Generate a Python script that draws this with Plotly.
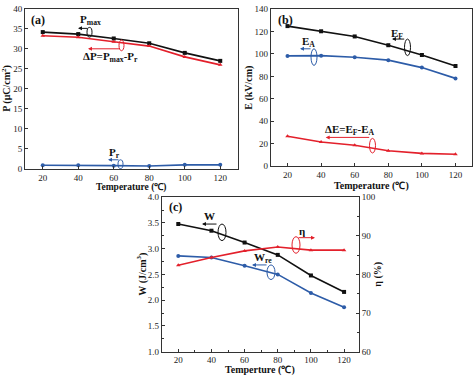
import plotly.graph_objects as go

W_PX, H_PX = 474, 378

temps = [20, 40, 60, 80, 100, 120]

# panel (a)
p_max = [34.2, 33.7, 32.6, 31.4, 29.0, 27.0]
delta_p = [33.3, 32.9, 31.8, 30.7, 28.0, 26.0]
p_r = [0.9, 0.9, 0.8, 0.7, 1.0, 1.0]

# panel (b)
e_f = [124.7, 120.1, 115.5, 107.7, 99.0, 89.2]
e_a = [98.2, 98.4, 97.0, 94.4, 87.8, 78.2]
delta_e = [26.8, 21.6, 18.8, 13.9, 11.5, 10.7]

# panel (c)
w_tot = [3.48, 3.35, 3.12, 2.88, 2.48, 2.16]
w_re = [2.86, 2.83, 2.67, 2.50, 2.14, 1.86]
eta = [82.4, 84.4, 86.1, 87.1, 86.3, 86.3]

BLACK = "#111111"
RED = "#e3202b"
BLUE = "#2d5ca8"
FONT = "Liberation Serif"


def px(x):
    return x / W_PX


def py(y):
    return 1 - y / H_PX


fig = go.Figure()

def add(x, y, color, symbol, xa, ya):
    fig.add_trace(go.Scatter(
        x=x, y=y, mode="lines+markers", xaxis=xa, yaxis=ya,
        line=dict(color=color, width=1.6),
        marker=dict(color=color, symbol=symbol, size=4),
        showlegend=False, cliponaxis=False))

add(temps, p_max, BLACK, "square", "x", "y")
add(temps, delta_p, RED, "triangle-up", "x", "y")
add(temps, p_r, BLUE, "circle", "x", "y")

add(temps, e_f, BLACK, "square", "x2", "y2")
add(temps, e_a, BLUE, "circle", "x2", "y2")
add(temps, delta_e, RED, "triangle-up", "x2", "y2")

add(temps, w_tot, BLACK, "square", "x3", "y3")
add(temps, w_re, BLUE, "circle", "x3", "y3")
add(temps, eta, RED, "triangle-up", "x3", "y4")

tickfont = dict(family=FONT, size=9, color="#222")
common = dict(showline=True, linecolor="#333", linewidth=1, mirror=True,
              ticks="inside", ticklen=3, tickcolor="#333", showgrid=False,
              zeroline=False, tickfont=tickfont)

fig.update_layout(
    width=W_PX, height=H_PX, autosize=False,
    margin=dict(l=0, r=0, t=0, b=0),
    paper_bgcolor="white", plot_bgcolor="white",
    xaxis=dict(domain=[px(25), px(238)], range=[10, 130], anchor="y",
               tickvals=[20, 40, 60, 80, 100, 120], **common),
    yaxis=dict(domain=[py(168.3), py(4)], range=[0, 40], anchor="x",
               tickvals=list(range(0, 41, 5)), **common),
    xaxis2=dict(domain=[px(270.7), px(472.3)], range=[10, 130], anchor="y2",
                tickvals=[20, 40, 60, 80, 100, 120], **common),
    yaxis2=dict(domain=[py(165.7), py(4)], range=[0, 140], anchor="x2",
                tickvals=list(range(0, 141, 20)), **common),
    xaxis3=dict(domain=[px(161.7), px(359)], range=[10, 129], anchor="y3",
                tickvals=[20, 40, 60, 80, 100, 120],
                minor=dict(ticks="inside", ticklen=2, tickvals=[30, 50, 70, 90, 110], tickcolor="#333"),
                **common),
    yaxis3=dict(domain=[py(356), py(197.5)], range=[1.0, 4.0], anchor="x3",
                tickvals=[1.0, 1.5, 2.0, 2.5, 3.0, 3.5, 4.0], tickformat=".1f",
                minor=dict(ticks="inside", ticklen=2, dtick=0.25, tickcolor="#333"),
                **common),
    yaxis4=dict(overlaying="y3", side="right", anchor="x3", range=[60, 100],
                tickvals=[60, 70, 80, 90, 100], showline=True, linecolor="#333",
                ticks="inside", ticklen=3, tickcolor="#333", showgrid=False,
                zeroline=False, tickfont=tickfont,
                minor=dict(ticks="inside", ticklen=2, dtick=5, tickcolor="#333")),
)

anns = []
shapes = []


def text(x, y, s, size=11, angle=0, xanchor="center", color="#111"):
    anns.append(dict(x=px(x), y=py(y), xref="paper", yref="paper", text=s,
                     showarrow=False, textangle=angle, xanchor=xanchor, yanchor="middle",
                     font=dict(family=FONT, size=size, color=color)))


def arrow(x0, y0, x1, y1, color):
    # arrow from (x0,y0) tail to (x1,y1) head, in pixel coords
    anns.append(dict(x=px(x1), y=py(y1), xref="paper", yref="paper",
                     ax=x0 - x1, ay=y0 - y1, axref="pixel", ayref="pixel",
                     text="", showarrow=True, arrowhead=2, arrowsize=0.8,
                     arrowwidth=1, arrowcolor=color))


def ellipse(cx, cy, w, h, color):
    shapes.append(dict(type="circle", xref="paper", yref="paper",
                       x0=px(cx - w / 2), x1=px(cx + w / 2),
                       y0=py(cy + h / 2), y1=py(cy - h / 2),
                       line=dict(color=color, width=1)))

# axis titles
text(131, 187.5, "<b>Temperature (℃)</b>", 9.5)
text(7, 86, "<b>P (μC/cm<sup>2</sup>)</b>", 10, angle=-90)
text(371, 185.5, "<b>Temperature (℃)</b>", 10)
text(249, 85, "<b>E (kV/cm)</b>", 10, angle=-90)
text(260, 374.5, "<b>Temperture (℃)</b>", 10)
text(142, 277, "<b>W (J/cm<sup>3</sup>)</b>", 10, angle=-90)
text(378, 277, "<b>η (%)</b>", 10, angle=-90)

# panel labels
text(29, 15, "<b>(a)</b>", 12, xanchor="left")
text(276, 15, "<b>(b)</b>", 12, xanchor="left")
text(167, 207, "<b>(c)</b>", 12, xanchor="left")

# panel (a) annotations
text(90, 15, "<b>P<sub>max</sub></b>", 11)
ellipse(89.5, 28, 5, 10, BLACK)
arrow(89, 24, 78, 24, BLACK)
ellipse(121.5, 41.5, 5, 11, RED)
arrow(121, 45, 88, 45, RED)
text(110, 53, "<b>ΔP=P<sub>max</sub>-P<sub>r</sub></b>", 11)
text(114, 152, "<b>P<sub>r</sub></b>", 11)
ellipse(120.5, 163.5, 5, 9, BLUE)
arrow(120, 159, 108, 159, BLUE)

# panel (b) annotations
text(397, 30, "<b>E<sub>F</sub></b>", 11)
ellipse(407.5, 43.5, 6, 17, BLACK)
arrow(405.7, 35, 392, 35, BLACK)
text(308, 38, "<b>E<sub>A</sub></b>", 11)
ellipse(314, 53.5, 6, 17, BLUE)
arrow(312, 45, 300, 45, BLUE)
text(350, 128, "<b>ΔE=E<sub>F</sub>-E<sub>A</sub></b>", 11)
ellipse(372.5, 144.5, 6, 15, RED)
arrow(370.7, 136, 325.7, 136, RED)

# panel (c) annotations
text(209, 217, "<b>W</b>", 11)
ellipse(222, 233.5, 8, 17, BLACK)
arrow(218, 225, 202, 225, BLACK)
text(302, 232, "<b>η</b>", 11)
ellipse(296, 246.5, 8, 17, RED)
arrow(297, 239, 315, 239, RED)
text(263, 260, "<b>W<sub>re</sub></b>", 11)
ellipse(271, 274.5, 8, 15, BLUE)
arrow(268, 267, 252, 267, BLUE)

fig.update_layout(annotations=anns, shapes=shapes)

fig.write_html("out.html", config={"displayModeBar": False},
               post_script="document.body.style.margin='0';document.body.style.overflow='hidden';")
